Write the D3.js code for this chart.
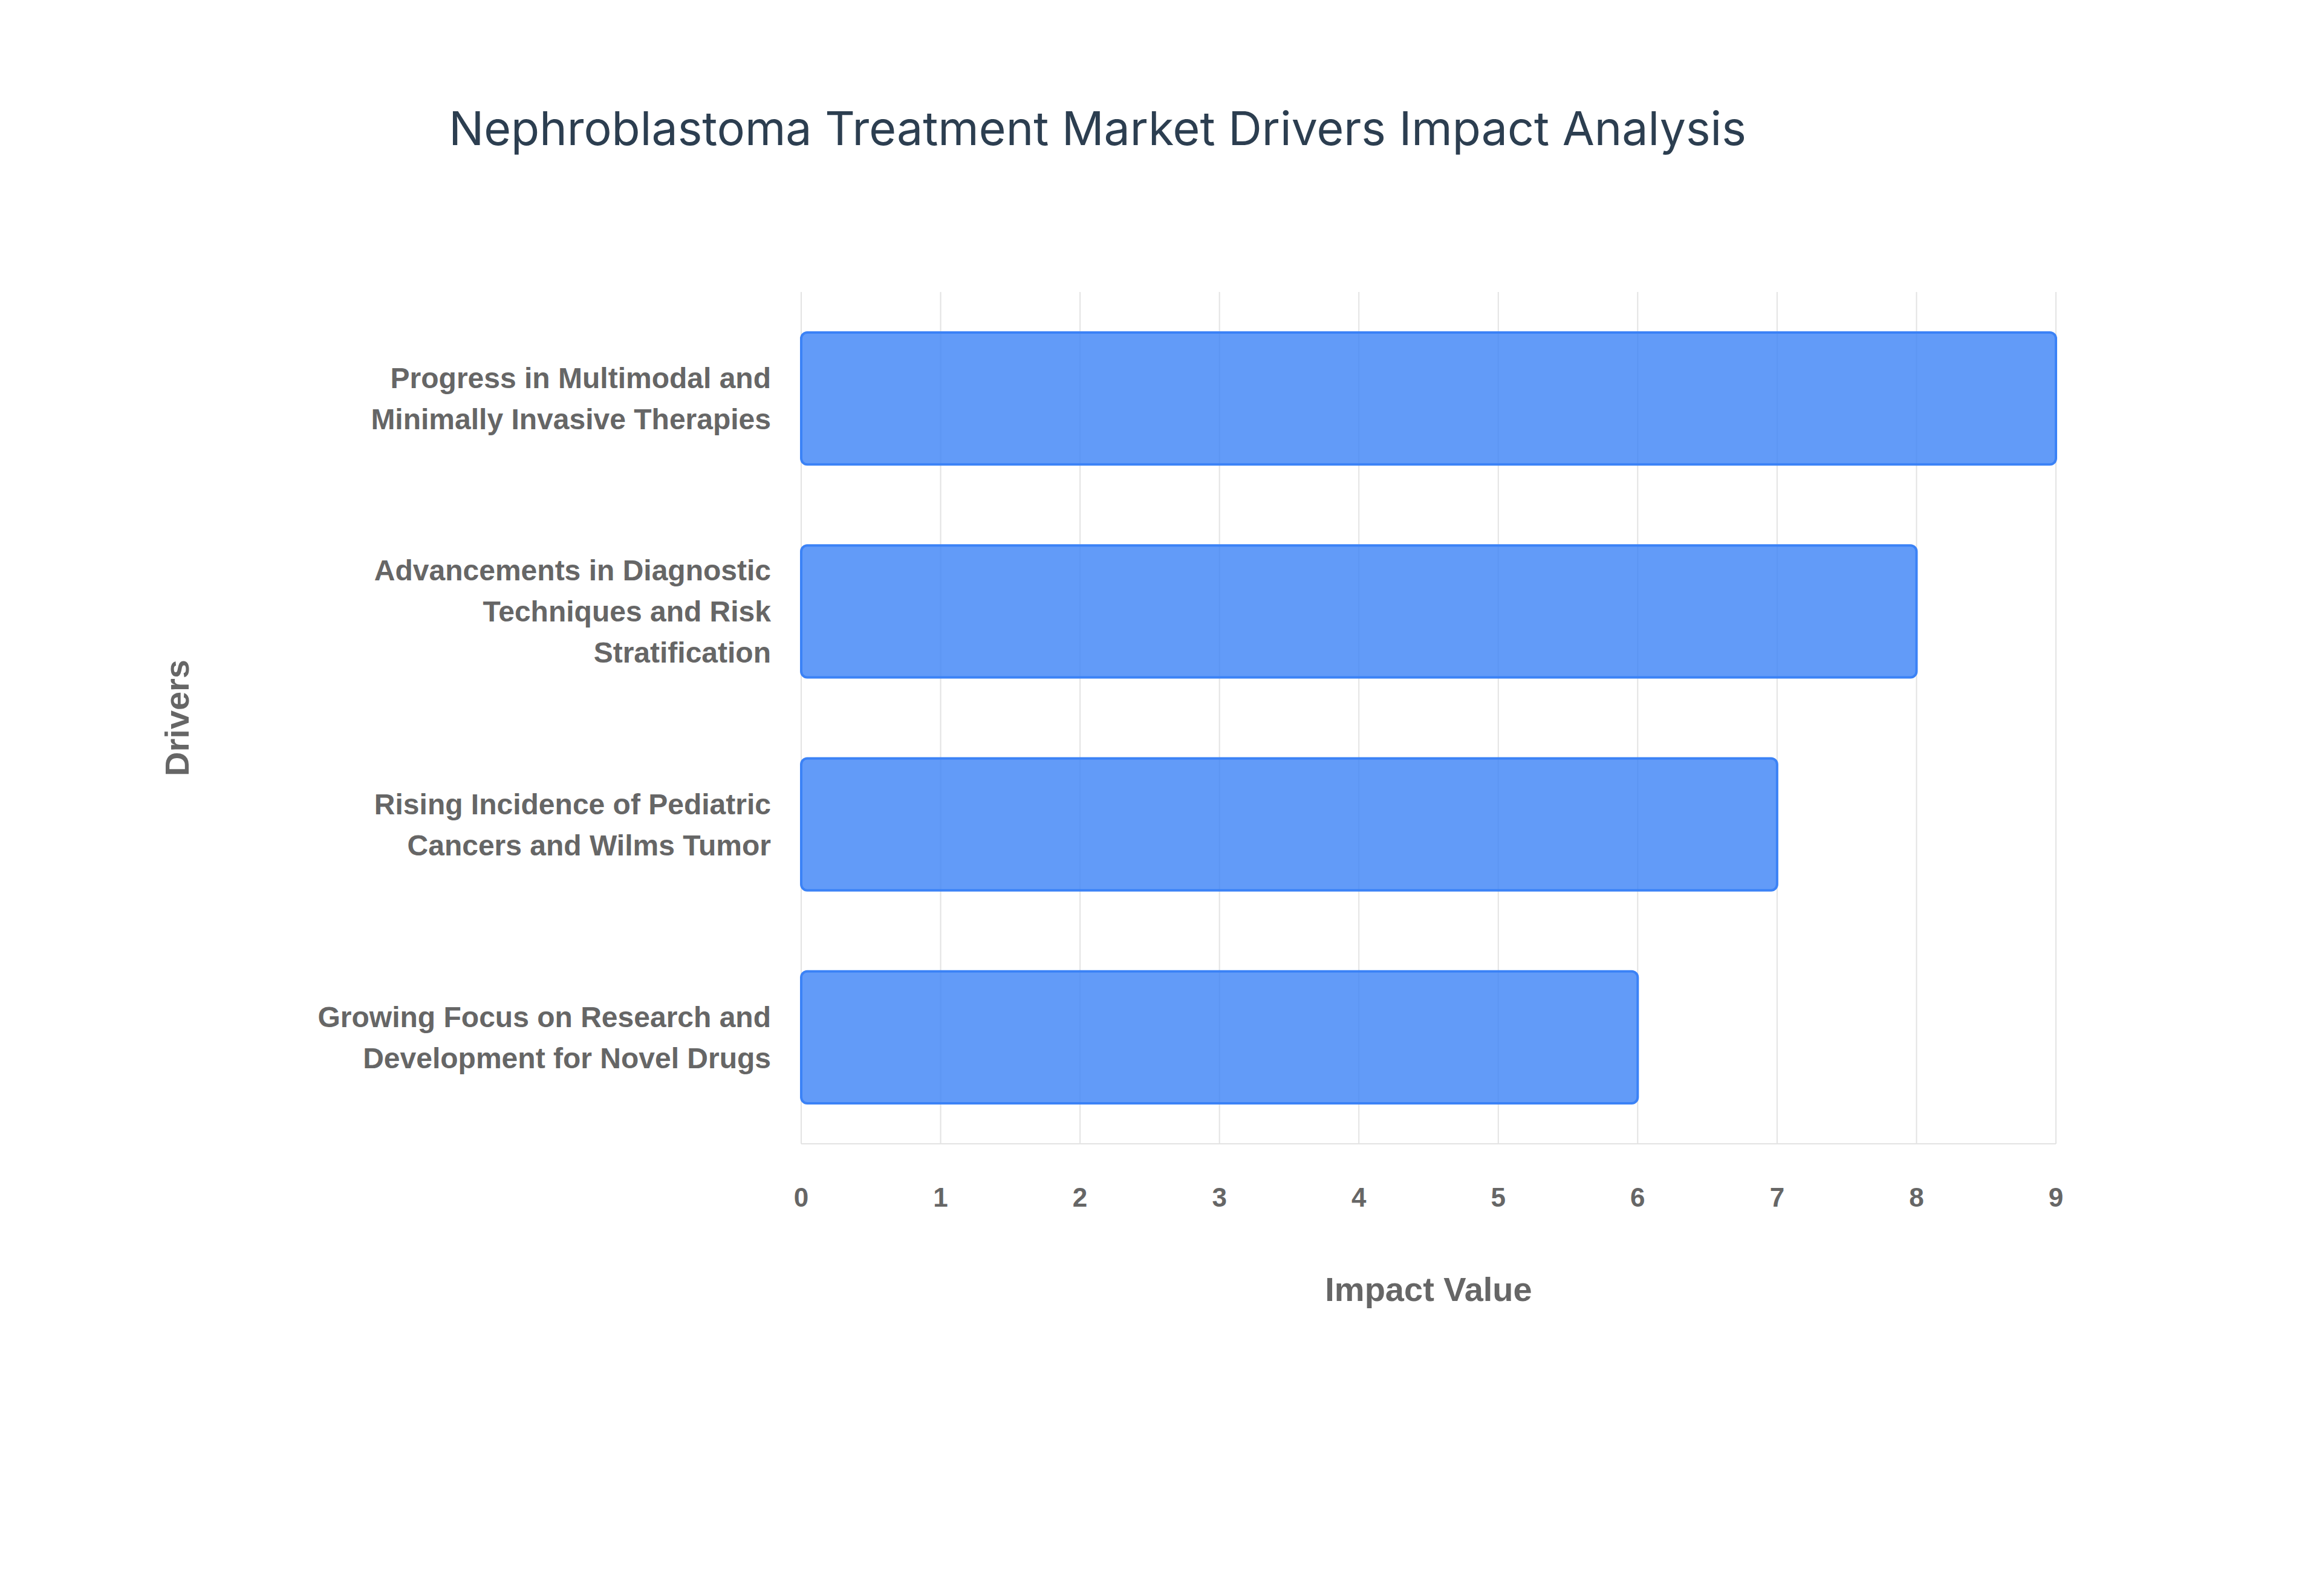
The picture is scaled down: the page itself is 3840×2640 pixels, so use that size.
<!DOCTYPE html>
<head>
<meta charset="utf-8">
<script src="https://d3js.org/d3.v7.min.js"></script>
<style>
  body { margin: 0; background: #fff; }
  text { font-family: "Liberation Sans", Arial, sans-serif; }
</style>
</head>
<body>
<script>
// data
var drivers = [
    ["Progress in Multimodal and", "Minimally Invasive Therapies"],
    ["Advancements in Diagnostic", "Techniques and Risk", "Stratification"],
    ["Rising Incidence of Pediatric", "Cancers and Wilms Tumor"],
    ["Growing Focus on Research and", "Development for Novel Drugs"]
];
var impacts = [9, 8, 7, 6];
var ticks = [0, 1, 2, 3, 4, 5, 6, 7, 8, 9];

var W = 3840, H = 2640;
var mLeft = 1325, mRight = 3400, mTop = 483, mBottom = 1892;

var svg = d3.select("body").append("svg").attr("width", W).attr("height", H);

var x = d3.scaleLinear().domain([0, 9]).range([mLeft, mRight]);
var y = d3.scaleBand().domain(d3.range(drivers.length)).range([mTop, mBottom]).paddingInner(0.38).paddingOuter(0.19);

// grid
svg.selectAll("line.grid").data(ticks).enter().append("line")
    .attr("x1", function(d) { return x(d); }).attr("x2", function(d) { return x(d); })
    .attr("y1", mTop).attr("y2", mBottom)
    .attr("stroke", "#e3e3e3").attr("stroke-width", 2);
svg.append("line").attr("x1", mLeft).attr("x2", mRight).attr("y1", mBottom).attr("y2", mBottom)
    .attr("stroke", "#e3e3e3").attr("stroke-width", 2);

// bars
svg.selectAll("rect.bar").data(impacts).enter().append("rect")
    .attr("x", x(0))
    .attr("y", function(d, i) { return y(i); })
    .attr("width", function(d) { return x(d) - x(0); })
    .attr("height", y.bandwidth())
    .attr("rx", 10)
    .attr("fill", "rgba(59,130,246,0.8)")
    .attr("stroke", "#3b82f6").attr("stroke-width", 4);

// x tick labels
svg.selectAll("text.xt").data(ticks).enter().append("text")
    .attr("x", function(d) { return x(d); }).attr("y", 1996)
    .attr("text-anchor", "middle").attr("font-size", 44).attr("font-weight", "bold")
    .attr("fill", "#666").text(function(d) { return d; });

// y labels
drivers.forEach(function(lines, i) {
    var cy = y(i) + y.bandwidth() / 2;
    var lh = 68;
    var t = svg.append("text").attr("text-anchor", "end").attr("font-size", 48)
        .attr("font-weight", "bold").attr("fill", "#666");
    lines.forEach(function(s, j) {
        t.append("tspan").attr("x", 1275)
            .attr("y", cy + (j - (lines.length - 1) / 2) * lh + 17).text(s);
    });
});

// titles
svg.append("text").attr("x", 1815).attr("y", 240).attr("text-anchor", "middle")
    .attr("font-size", 77).attr("fill", "#2c3e50")
    .style("font-family", "Inter, 'Noto Sans', sans-serif")
    .text("Nephroblastoma Treatment Market Drivers Impact Analysis");
svg.append("text").attr("x", (mLeft + mRight) / 2).attr("y", 2152).attr("text-anchor", "middle")
    .attr("font-size", 56).attr("font-weight", "bold").attr("fill", "#666").text("Impact Value");
svg.append("text").attr("transform", "translate(312," + (mTop + mBottom) / 2 + ") rotate(-90)")
    .attr("text-anchor", "middle").attr("font-size", 56).attr("font-weight", "bold")
    .attr("fill", "#666").text("Drivers");
</script>
</body>
</html>
